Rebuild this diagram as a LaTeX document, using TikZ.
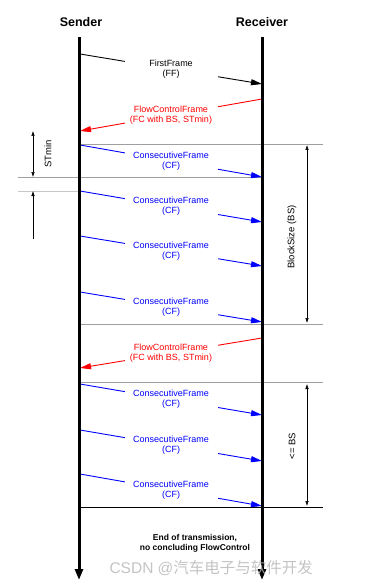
\documentclass[tikz,border=0pt]{standalone}
\usepackage{fontspec}
\setmainfont{Liberation Sans}
\newfontfamily\cjk{Noto Sans CJK SC}
\usetikzlibrary{arrows.meta}

\begin{document}
\begin{tikzpicture}[x=1pt,y=-1pt,
    lifeline/.style={line width=3pt,-{Triangle[length=11pt,width=8pt]}},
    msg/.style={line width=0.9pt,-{Triangle[length=11pt,width=6pt]}},
    msglabel/.style={fill=white,inner xsep=0pt,inner ysep=1pt,minimum width=93pt,align=center,
      font=\fontsize{9}{10}\selectfont},
    sepline/.style={draw=gray!75,line width=0.6pt},
    dimline/.style={line width=0.5pt},
    dimtip/.tip={Latex[length=5pt,width=3.5pt]},
    dimlabel/.style={rotate=90,font=\fontsize{9.5}{10}\selectfont}]
  \useasboundingbox (0,0) rectangle (375,588);

  % lifelines
  \node[font=\fontsize{12.5}{14}\selectfont\bfseries] (sender) at (81,22) {Sender};
  \node[font=\fontsize{12.5}{14}\selectfont\bfseries] (receiver) at (262,22) {Receiver};
  \coordinate (sTop) at (79,37);
  \coordinate (sEnd) at (79,580);
  \coordinate (rTop) at (262,37);
  \coordinate (rEnd) at (262,580);

  % separators
  \draw[sepline] (80,144) coordinate (b1a) -- (323,144) coordinate (b1b);
  \draw[sepline] (18,177) coordinate (t1a) -- (262,177) coordinate (t1b);
  \draw[sepline,draw=gray!45] (18,191) coordinate (t2a) -- (80,191) coordinate (t2b);
  \draw[sepline] (80,324) coordinate (b2a) -- (323,324) coordinate (b2b);
  \draw[sepline] (80,382) coordinate (b3a) -- (323,382) coordinate (b3b);
  \draw[sepline,draw=black] (80,507) coordinate (b4a) -- (323,507) coordinate (b4b);

  % first frame and flow control
  \coordinate (ffS) at (80,54);
  \coordinate (ffR) at (262,84);
  \draw[msg] (ffS) -- node[msglabel] (ff) {FirstFrame\\(FF)} (ffR);
  \coordinate (fc1R) at (262,99);
  \coordinate (fc1S) at (80,131);
  \draw[msg,red] (fc1R) -- node[msglabel,text=red] (fc1) {FlowControlFrame\\(FC with BS, STmin)} (fc1S);
  \coordinate (fc2R) at (262,338);
  \coordinate (fc2S) at (80,368);
  \draw[msg,red] (fc2R) -- node[msglabel,text=red] (fc2) {FlowControlFrame\\(FC with BS, STmin)} (fc2S);

  % consecutive frames
  \foreach \ya/\yb [count=\i] in {145/177,191/222,236/266,292/322,384/415,430/461,474/506} {
    \coordinate (cfS\i) at (80,\ya);
    \coordinate (cfR\i) at (262,\yb);
    \draw[msg,blue] (cfS\i) -- node[msglabel,text=blue] (cf\i) {ConsecutiveFrame\\(CF)} (cfR\i);
  }

  \draw[lifeline] (sTop) -- (sEnd);
  \draw[lifeline] (rTop) -- (rEnd);

  % STmin and block sizes
  \coordinate (st1a) at (33,131);
  \coordinate (st1b) at (33,177);
  \draw[dimline,dimtip-dimtip] (st1a) -- (st1b);
  \node[dimlabel] (stmin) at (48,154) {STmin};
  \coordinate (st2a) at (33,191);
  \coordinate (st2b) at (33,239);
  \draw[dimline,dimtip-] (st2a) -- (st2b);
  \coordinate (bs1a) at (307,145);
  \coordinate (bs1b) at (307,323);
  \draw[dimline,dimtip-dimtip] (bs1a) -- (bs1b);
  \node[dimlabel] (bs) at (292,237) {BlockSize (BS)};
  \coordinate (bs2a) at (307,384);
  \coordinate (bs2b) at (307,506);
  \draw[dimline,dimtip-dimtip] (bs2a) -- (bs2b);
  \node[dimlabel] (lebs) at (292,446) {<= BS};

  \node[align=center,font=\fontsize{8.5}{10}\selectfont\bfseries] (eot) at (195,543)
    {End of transmission,\\no concluding FlowControl};

  \node[text=gray!55,opacity=0.85,font=\fontsize{15.5}{16}\selectfont,anchor=west] (mark) at (106,568)
    {CSDN @\cjk 汽车电子与软件开发};
\end{tikzpicture}
\end{document}
